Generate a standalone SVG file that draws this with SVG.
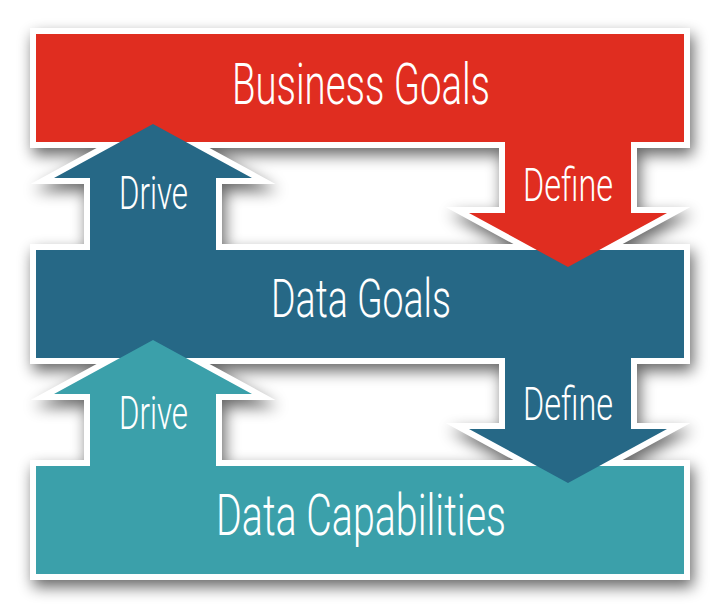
<svg xmlns="http://www.w3.org/2000/svg" width="721" height="614" viewBox="0 0 721 614">
<style>
.lbl{font-family:Roboto,"Liberation Sans",Arial,sans-serif;font-weight:300;fill:#ffffff;}
.big{font-size:57px;}
.small{font-size:46px;}
.ol{fill:#ffffff;stroke:#ffffff;stroke-width:12;stroke-linejoin:miter;stroke-miterlimit:10;}
.sh{fill:#000;stroke:#000;stroke-width:12;stroke-linejoin:miter;stroke-miterlimit:10;}
.red{fill:#e02d20;}
.blue{fill:#266886;}
.teal{fill:#3ba0aa;}
</style>
<defs>
<rect id="b1" x="36" y="34" width="648" height="108"/>
<rect id="b2" x="36" y="250" width="648" height="108"/>
<rect id="b3" x="36" y="466" width="648" height="108"/>
<polygon id="u1" points="90,250 90,178 54,178 153,124 252,178 216,178 216,250"/>
<polygon id="u2" points="90,466 90,394 54,394 153,340 252,394 216,394 216,466"/>
<polygon id="d1" points="505,142 505,213 469,213 568,267 667,213 631,213 631,142"/>
<polygon id="d2" points="505,358 505,429 469,429 568,483 667,429 631,429 631,358"/>
<filter id="shadow" x="-20%" y="-20%" width="140%" height="140%">
<feGaussianBlur in="SourceAlpha" stdDeviation="7.5"/>
<feOffset dx="3" dy="7"/>
<feComponentTransfer><feFuncA type="linear" slope="0.6"/></feComponentTransfer>
</filter>
</defs>
<rect width="721" height="614" fill="#ffffff"/>
<g id="shadow-layer" filter="url(#shadow)">
<use href="#b1" class="sh"/><use href="#b2" class="sh"/><use href="#b3" class="sh"/>
<use href="#u1" class="sh"/><use href="#u2" class="sh"/><use href="#d1" class="sh"/><use href="#d2" class="sh"/>
</g>
<g id="outlines">
<use href="#b1" class="ol"/><use href="#b2" class="ol"/><use href="#b3" class="ol"/>
<use href="#u1" class="ol"/><use href="#u2" class="ol"/><use href="#d1" class="ol"/><use href="#d2" class="ol"/>
</g>
<g id="business-goals">
<use href="#b1" class="red"/>
<text class="lbl big" x="232" y="104" textLength="258" lengthAdjust="spacingAndGlyphs">Business Goals</text>
</g>
<g id="data-goals">
<use href="#b2" class="blue"/>
<text class="lbl" style="font-size:53px" x="271" y="317" textLength="180" lengthAdjust="spacingAndGlyphs">Data Goals</text>
</g>
<g id="data-capabilities">
<use href="#b3" class="teal"/>
<text class="lbl big" x="216" y="535" textLength="290" lengthAdjust="spacingAndGlyphs">Data Capabilities</text>
</g>
<g id="connectors">
<g id="drive-1"><use href="#u1" class="blue"/><text class="lbl small" x="119" y="209" textLength="69" lengthAdjust="spacingAndGlyphs">Drive</text></g>
<g id="define-1"><use href="#d1" class="red"/><text class="lbl small" x="523" y="201" textLength="90" lengthAdjust="spacingAndGlyphs">Define</text></g>
<g id="drive-2"><use href="#u2" class="teal"/><text class="lbl small" x="119" y="429" textLength="69" lengthAdjust="spacingAndGlyphs">Drive</text></g>
<g id="define-2"><use href="#d2" class="blue"/><text class="lbl small" x="523" y="420" textLength="90" lengthAdjust="spacingAndGlyphs">Define</text></g>
</g>
</svg>
